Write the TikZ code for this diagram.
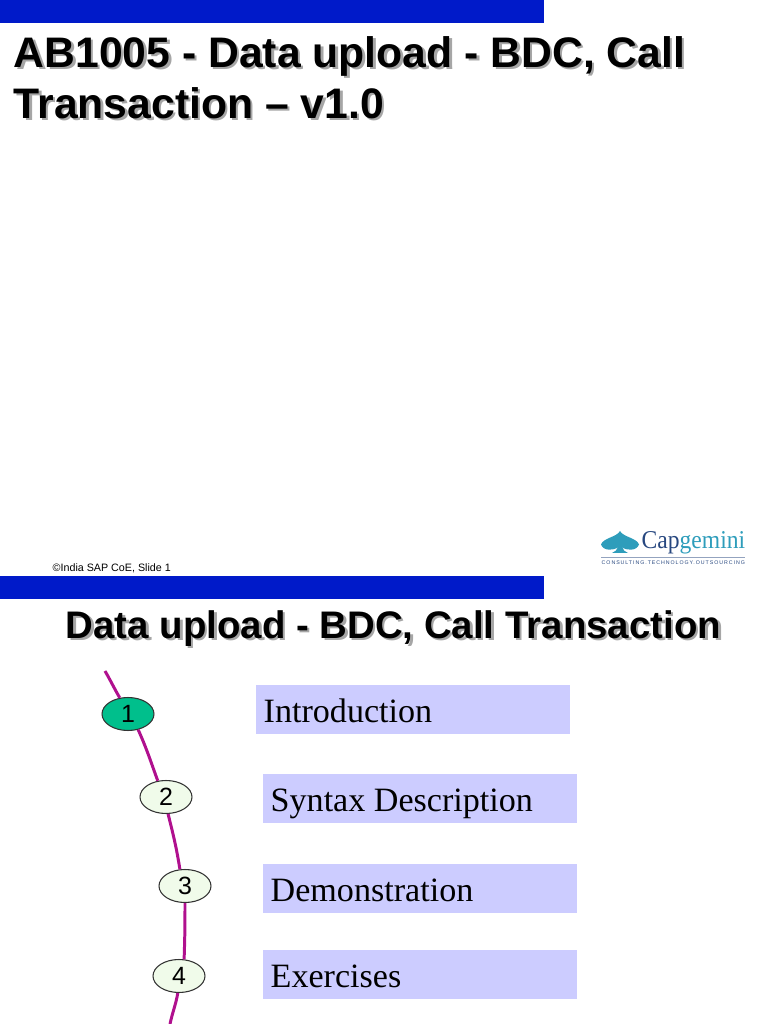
\documentclass[tikz,border=0pt]{standalone}
\usepackage{fontspec}
\setmainfont{Liberation Sans}
\newfontfamily\serifface{Liberation Serif}
\newfontfamily\tagface[LetterSpace=18]{Liberation Sans}
\usetikzlibrary{shapes.geometric}
\definecolor{barblue}{HTML}{001AC9}
\definecolor{itemblue}{HTML}{CCCCFF}
\definecolor{trackpurple}{HTML}{B0108E}
\definecolor{activegreen}{HTML}{00BF8C}
\definecolor{idlegreen}{HTML}{F0FBEA}
\definecolor{logonavy}{HTML}{27477F}
\definecolor{logoteal}{HTML}{2E9DBB}
\tikzset{
  titletext/.style={anchor=base west, inner sep=0, font=\fontsize{12.15}{14}\selectfont\bfseries},
  subtitletext/.style={anchor=base west, inner sep=0, font=\fontsize{10.93}{14}\selectfont\bfseries},
  itembox/.style={fill=itemblue, anchor=north west, minimum width=3.14cm, minimum height=0.49cm, inner sep=0},
  itemtext/.style={anchor=base west, inner sep=0, font=\fontsize{9.7}{12}\serifface},
  stepnode/.style={ellipse, draw=black!80, fill=idlegreen, line width=0.3pt, minimum width=0.52cm, minimum height=0.33cm, inner sep=0, font=\fontsize{7.1}{8}\selectfont},
  track/.style={color=trackpurple, line width=0.85pt}
}
\begin{document}
\begin{tikzpicture}
  \useasboundingbox (0, 0) rectangle (7.68, 10.24);
  % bars
  \fill [color=barblue] (0, 10.01) rectangle (5.44, 10.24);
  \fill [color=barblue] (0, 4.25) rectangle (5.44, 4.48);
  % first title
  \node [titletext, color=black!35] at (0.155, 9.54) {AB1005 - Data upload - BDC, Call};
  \node [titletext, color=black!35] at (0.155, 9.03) {Transaction – v1.0};
  \node [titletext] (titleone) at (0.13, 9.565) {AB1005 - Data upload - BDC, Call};
  \node [titletext] (titletwo) at (0.13, 9.055) {Transaction – v1.0};
  % footer
  \node [anchor=base west, inner sep=0, font=\fontsize{3.05}{4}\selectfont] (footer) at (0.52, 4.52) {©India SAP CoE, Slide 1};
  % logo
  \fill [color=logoteal] (6.20, 4.93) .. controls (6.17, 4.87) and (6.03, 4.86) .. (6.01, 4.795)
    .. controls (6.03, 4.73) and (6.14, 4.73) .. (6.18, 4.77)
    .. controls (6.17, 4.74) and (6.15, 4.72) .. (6.12, 4.71) -- (6.28, 4.71)
    .. controls (6.25, 4.72) and (6.23, 4.74) .. (6.22, 4.77)
    .. controls (6.26, 4.73) and (6.37, 4.73) .. (6.39, 4.795)
    .. controls (6.37, 4.86) and (6.23, 4.87) .. (6.20, 4.93) -- cycle;
  \node [anchor=base west, inner sep=0, xscale=0.92, font=\fontsize{7.3}{8}\serifface] (logoname) at (6.41, 4.75) {\textcolor{logonavy}{Cap}\textcolor{logoteal}{gemini}};
  \draw [color=logonavy!50, line width=0.2pt] (6.01, 4.67) -- (7.45, 4.67);
  \node [anchor=base west, inner sep=0, color=logonavy, font=\fontsize{1.5}{2}\tagface] (logotag) at (6.01, 4.595) {CONSULTING.TECHNOLOGY.OUTSOURCING};
  % second title
  \node [subtitletext, color=black!35] at (0.675, 3.83) {Data upload - BDC, Call Transaction};
  \node [subtitletext] (titlethree) at (0.65, 3.855) {Data upload - BDC, Call Transaction};
  % items
  \node [itembox] (boxone) at (2.555, 3.395) {};
  \node [itembox] (boxtwo) at (2.625, 2.505) {};
  \node [itembox] (boxthree) at (2.625, 1.605) {};
  \node [itembox] (boxfour) at (2.625, 0.745) {};
  \node [itemtext] (textone) at (2.63, 3.015) {Introduction};
  \node [itemtext] (texttwo) at (2.70, 2.125) {Syntax Description};
  \node [itemtext] (textthree) at (2.70, 1.23) {Demonstration};
  \node [itemtext] (textfour) at (2.70, 0.37) {Exercises};
  % steps
  \node [stepnode, fill=activegreen] (stepone) at (1.28, 3.10) {1};
  \node [stepnode] (steptwo) at (1.66, 2.27) {2};
  \node [stepnode] (stepthree) at (1.85, 1.38) {3};
  \node [stepnode] (stepfour) at (1.79, 0.48) {4};
  \coordinate (tracktop) at (1.05, 3.53);
  \coordinate (trackend) at (1.70, 0);
  % track
  \draw [track] (tracktop) to [out=-60, in=120] (stepone.117);
  \draw [track] (stepone.-57) to [out=-66, in=110] (steptwo.117);
  \draw [track] (steptwo.-83) to [out=-76, in=99] (stepthree.107);
  \draw [track] (stepthree.-90) to [out=-90, in=88] (stepfour.73);
  \draw [track] (stepfour.-94) to [out=-100, in=78] (trackend);
\end{tikzpicture}
\end{document}
